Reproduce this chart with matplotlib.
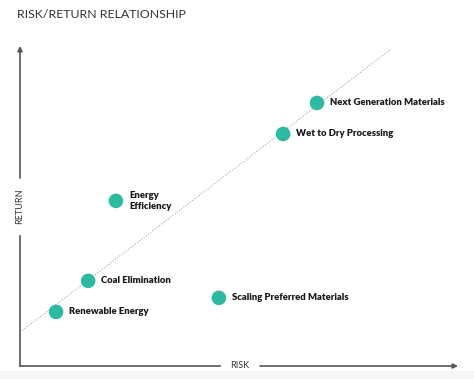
import matplotlib.pyplot as plt
import matplotlib.patches as mpatches

# data (risk, return) on a 0-10 scale
names = ['Next Generation Materials', 'Wet to Dry Processing', 'Energy\nEfficiency',
         'Coal Elimination', 'Renewable Energy', 'Scaling Preferred Materials']
risk = [6.75, 5.98, 2.18, 1.55, 0.82, 4.52]
ret = [8.22, 7.25, 5.16, 2.66, 1.69, 2.13]
trend_x = [0.0, 8.41]
trend_y = [1.06, 9.88]

teal = '#2cbba1'
axis_col = '#555555'

fig = plt.figure(figsize=(4.74, 3.79), dpi=100)
fig.patch.set_facecolor('white')
fig.patches.append(mpatches.Rectangle((0, 0), 1, 8 / 379, transform=fig.transFigure,
                                      facecolor='#f6f6f6', edgecolor='none', zorder=0))

ax = fig.add_axes([20 / 474, 13 / 379, 440 / 474, 320 / 379])
ax.set_xlim(0, 10)
ax.set_ylim(0, 10)
ax.axis('off')

# dotted trend line
ax.plot(trend_x, trend_y, color='#aaaaaa', lw=0.8, ls=(0, (1, 1.5)), zorder=1)

ax.scatter(risk, ret, s=110, color=teal, edgecolor='none', zorder=3)
for x, y, n in zip(risk, ret, names):
    ax.text(x + 0.3, y, n, fontsize=6.8, fontweight='heavy', color='#1a1a1a',
            family='Lato', va='center', ha='left', linespacing=1.35)

# axes drawn by hand with gaps for labels
t = ax.transAxes
ax.plot([0, 0], [0, (366 - 236) / 320], color=axis_col, lw=1.2, transform=t, clip_on=False)
ax.annotate('', xy=(0, 1.0), xytext=(0, (366 - 178) / 320), xycoords=t, textcoords=t,
            arrowprops=dict(arrowstyle='-|>', color=axis_col, lw=1.2, mutation_scale=7,
                            shrinkA=0, shrinkB=0))
ax.plot([0, (220 - 20) / 440], [0, 0], color=axis_col, lw=1.2, transform=t, clip_on=False)
ax.annotate('', xy=(438 / 440, 0), xytext=((260 - 20) / 440, 0), xycoords=t, textcoords=t,
            arrowprops=dict(arrowstyle='-|>', color=axis_col, lw=1.2, mutation_scale=7,
                            shrinkA=0, shrinkB=0))

ax.text(0, (366 - 206) / 320, 'RETURN', transform=t, rotation=90, ha='center', va='center',
        fontsize=6.5, color='#333333', family='Lato')
ax.text((240 - 20) / 440, 0, 'RISK', transform=t, ha='center', va='center',
        fontsize=6.5, color='#333333', family='Lato')

fig.text(17 / 474, 1 - 14 / 379, 'RISK/RETURN RELATIONSHIP', ha='left', va='center',
         fontsize=8.9, color='#333333', family='Lato')

fig.savefig('out.png', dpi=100)
